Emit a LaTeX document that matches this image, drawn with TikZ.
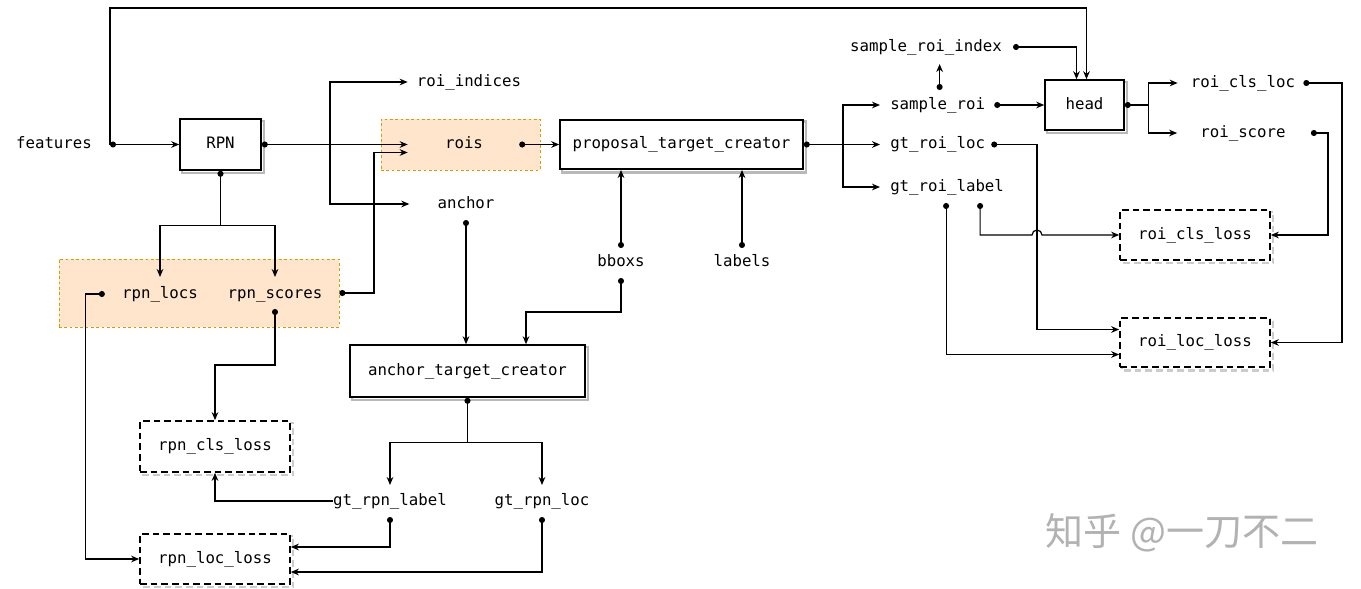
\documentclass[tikz,border=0pt]{standalone}
\usepackage{fontspec}
\setmonofont{DejaVu Sans Mono}
\newfontfamily\cjkfont{Noto Sans CJK SC}
\usetikzlibrary{arrows.meta,calc,backgrounds}
\definecolor{orfill}{RGB}{255,229,204}
\definecolor{ordraw}{RGB}{215,155,0}
\begin{document}
\begin{tikzpicture}[x=0.75pt,y=-0.75pt,
  every node/.style={font=\ttfamily\fontsize{11.8}{14}\selectfont, inner sep=0pt, text height=8.5pt, text depth=2.5pt},
  conn/.style={line width=0.9pt, draw=black},
  arr/.style={conn, -{Stealth[length=6pt,width=5pt]}},
  dotarr/.style={conn, {Circle[length=4.5pt]}-{Stealth[length=6pt,width=5pt]}},
  dotline/.style={conn, {Circle[length=4.5pt]}-},
  sbox/.style={draw, line width=1.2pt, fill=white},
  lbox/.style={draw, line width=1.3pt, dash pattern=on 5pt off 3pt, fill=white},
  sshadow/.style={draw=gray!55, line width=1.6pt},
  lshadow/.style={draw=gray!40, line width=1.6pt, dash pattern=on 5pt off 3pt},
  obox/.style={draw=ordraw, line width=0.5pt, dash pattern=on 2pt off 2pt, fill=orfill},
  wm/.style={font=\cjkfont\fontsize{28.5}{32}\selectfont, text=gray!60, text height=, text depth=}
]
\useasboundingbox (0,0) rectangle (1361,589);

% ---------- boxes ----------
\node[obox, minimum width=119.25pt, minimum height=38.25pt] (roisbox) at (460.5,144.5) {};
\node[obox, minimum width=210pt, minimum height=51pt] (rpnout) at (199,293) {};
\node[sbox, minimum width=60.75pt, minimum height=38.25pt] (rpn) at (220.5,144.5) {RPN};
\node[sbox, minimum width=182.25pt, minimum height=37pt] (ptc) at (681.5,144.5) {proposal\_target\_creator};
\node[sbox, minimum width=176.25pt, minimum height=39pt] (atc) at (467.5,371) {anchor\_target\_creator};
\node[lbox, minimum width=112.5pt, minimum height=38.25pt] (rpncls) at (215,446.5) {rpn\_cls\_loss};
\node[lbox, minimum width=112.5pt, minimum height=37.5pt] (rpnloc) at (215,559) {rpn\_loc\_loss};
\node[sbox, minimum width=59.25pt, minimum height=37.5pt] (head) at (1084.5,105) {head};
\node[lbox, minimum width=112.5pt, minimum height=37.5pt] (roicls) at (1195,235) {roi\_cls\_loss};
\node[lbox, minimum width=112.5pt, minimum height=37pt] (roiloc) at (1195,342.5) {roi\_loc\_loss};

\begin{scope}[on background layer]
  \fill[white] (0,0) rectangle (1361,589);
  \foreach \b in {rpn,ptc,atc,head}
    \draw[sshadow] ($(\b.north west)+(2.5,2.5)$) rectangle ($(\b.south east)+(2.5,2.5)$);
  \foreach \b in {rpncls,rpnloc,roicls,roiloc}
    \draw[lshadow] ($(\b.north west)+(2.5,2.5)$) rectangle ($(\b.south east)+(2.5,2.5)$);
\end{scope}

% ---------- labels ----------
\node (features) at (54,144) {features};
\node (roiind) at (469,82) {roi\_indices};
\node (anchor) at (466,204) {anchor};
\node (rois) at (464,144.5) {rois};
\node (bboxs) at (621,262) {bboxs};
\node (labels) at (742,262) {labels};
\node (rpnlocs) at (160,294) {rpn\_locs};
\node (rpnscores) at (275,294) {rpn\_scores};
\node (gtrpnlabel) at (390,501) {gt\_rpn\_label};
\node (gtrpnloc) at (542,501) {gt\_rpn\_loc};
\node (sri) at (926,47) {sample\_roi\_index};
\node[anchor=west] (sampleroi) at (890,105) {sample\_roi};
\node[anchor=west] (gtroiloc) at (890,144.5) {gt\_roi\_loc};
\node[anchor=west] (gtroilabel) at (890,187) {gt\_roi\_label};
\node (roiclsloc) at (1243,83) {roi\_cls\_loc};
\node (roiscore) at (1243,133) {roi\_score};
\node[wm] (watermark) at (1182,533) {知乎 @一刀不二};

% ---------- connectors ----------
\coordinate (fdot) at (110,144.5);
\draw[dotarr] (fdot) -- (rpn.west);
\draw[arr] (fdot) -- (110,8) -| ($(head.north)+(2,0)$);
\draw[dotarr] ($(sri.east)+(11,0)$) -| ($(head.north)+(-8,0)$);

\draw[dotarr] (rpn.east) -- ($(roisbox.west)+(27,0)$);
\draw[arr] (330,144.5) |- ($(roiind.west)+(-9,0)$);
\draw[arr] (330,144.5) |- ($(anchor.west)+(-28,0)$);
\draw[dotarr] (rpnout.east) -- (374,293) |- ($(roisbox.west)+(27,8)$);
\draw[dotarr] ($(rois.east)+(36,0)$) -- (ptc.west);

\draw[dotarr] ($(bboxs)+(0,-14)$) -- (bboxs |- ptc.south);
\draw[dotarr] ($(labels)+(0,-14)$) -- (labels |- ptc.south);
\draw[dotarr] ($(bboxs)+(0,16)$) -- ++(0,34) -| ($(atc.north)+(58.5,0)$);
\draw[dotarr] ($(anchor)+(0,16)$) -- (anchor |- atc.north);

\draw[dotarr] (atc.south) -- ($(atc.south)+(0,45)$) -| ($(gtrpnlabel)+(0,-16)$);
\draw[arr] ($(atc.south)+(0,45)$) -| ($(gtrpnloc)+(0,-16)$);
\draw[dotarr] ($(gtrpnlabel)+(0,16)$) |- ($(rpnloc.east)+(0,-12)$);
\draw[dotarr] ($(gtrpnloc)+(0,16)$) |- ($(rpnloc.east)+(0,13)$);
\draw[arr] (gtrpnlabel.west) -| (rpncls.south);

\draw[dotarr] ($(rpnlocs.west)+(-17,0)$) -- ++(-19,0) |- (rpnloc.west);
\draw[dotarr] ($(rpnscores)+(0,15)$) -- ++(0,56) -| (rpncls.north);
\draw[dotarr] (rpn.south) -- ++(0,55) -| ($(rpnlocs)+(0,-17)$);
\draw[arr] ($(rpn.south)+(0,55)$) -| ($(rpnscores)+(0,-17)$);

\draw[dotarr] (ptc.east) -- ($(gtroiloc.west)+(-10,0)$);
\draw[arr] (843,144.5) |- ($(sampleroi.west)+(-10,0)$);
\draw[arr] (843,144.5) |- ($(gtroilabel.west)+(-10,0)$);
\draw[dotarr] ($(sampleroi.east)+(9,0)$) -- (head.west);
\draw[dotarr] ($(sampleroi)+(2,-15)$) -- ++(0,-26);

\draw[dotline] (head.east) -- ++(24,0);
\draw[arr] ($(head.east)+(24,0)$) |- ($(roiclsloc.west)+(-13,0)$);
\draw[arr] ($(head.east)+(24,0)$) |- ($(roiscore.west)+(-23,0)$);
\draw[dotarr] ($(roiclsloc.east)+(8,0)$) -- (1342,83) |- (roiloc.east);
\draw[dotarr] ($(roiscore.east)+(25,0)$) -- (1328,133) |- (roicls.east);

\draw[dotarr] ($(gtroiloc.east)+(6,0)$) -- (1037,144.5) |- ($(roiloc.west)+(0,-13)$);
\draw[dotarr] ($(gtroilabel)+(-1,16)$) |- ($(roiloc.west)+(0,12)$);
\draw[dotarr] ($(gtroilabel)+(33,16)$) -- ++(0,32) -- (1032,235) arc[start angle=180, end angle=360, radius=5] -- (roicls.west);
\end{tikzpicture}
\end{document}
